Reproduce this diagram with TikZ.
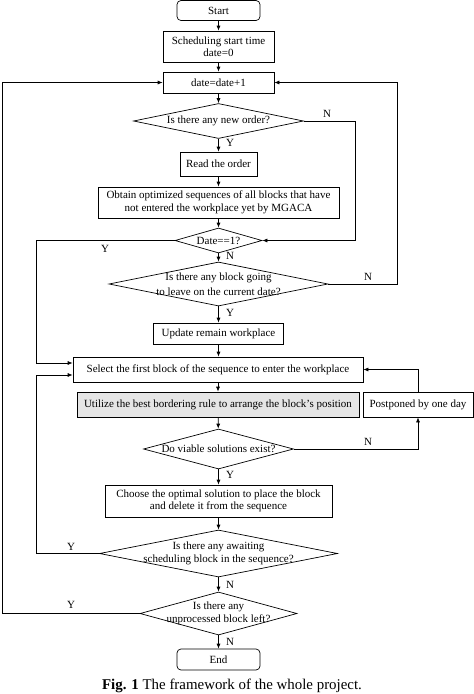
\documentclass[tikz,border=0pt]{standalone}
\usepackage{fontspec}
\setmainfont{Liberation Serif}
\usetikzlibrary{shapes.geometric,arrows.meta}
\begin{document}
\begin{tikzpicture}[x=1pt,y=-1pt,
  every node/.style={font=\fontsize{11}{12.5}\selectfont},
  box/.style={draw,line width=0.7pt,rectangle,inner sep=0pt,align=center},
  rbox/.style={box,rounded corners=4pt},
  dia/.style={draw,line width=0.7pt,diamond,inner sep=0pt},
  txt/.style={align=center,inner sep=0pt},
  lab/.style={inner sep=0pt},
  conn/.style={line width=0.7pt,-{Latex[length=5pt,width=4pt]}}]
\useasboundingbox (0,0) rectangle (474,694);

\node[rbox,minimum width=83pt,minimum height=20pt] (start) at (218.5,10.5) {Start};
\node[box,minimum width=111pt,minimum height=31pt] (sched) at (218.5,46.5) {Scheduling start time\\date=0};
\node[box,minimum width=111pt,minimum height=21pt] (date) at (218.5,82.5) {date=date+1};
\node[dia,minimum width=170pt,minimum height=35pt] (d1) at (218.5,121) {};
\node[txt] at (d1) {Is there any new order?};
\node[box,minimum width=77pt,minimum height=24pt] (read) at (218.5,164) {Read the order};
\node[box,minimum width=241pt,minimum height=31pt] (obtain) at (218.5,202.5) {Obtain optimized sequences of all blocks that have\\not entered the workplace yet by MGACA};
\node[dia,minimum width=87pt,minimum height=25pt] (d2) at (218.5,240.5) {};
\node[txt] at (d2) {Date==1?};
\node[dia,minimum width=219pt,minimum height=44pt] (d3) at (218.5,284) {};
\node[txt,font=\fontsize{11}{15}\selectfont] at (d3) {Is there any block going\\to leave on the current date?};
\node[box,minimum width=130pt,minimum height=21pt] (update) at (218.5,333.5) {Update remain workplace};
\node[box,minimum width=290pt,minimum height=25pt] (select) at (218,369.5) {Select the first block of the sequence to enter the workplace};
\node[box,fill=black!10,minimum width=282pt,minimum height=25pt] (util) at (218,404.5) {Utilize the best bordering rule to arrange the block's position};
\node[box,minimum width=110pt,minimum height=25pt] (post) at (418,404.5) {Postponed by one day};
\node[dia,minimum width=150pt,minimum height=40pt] (d4) at (218.5,449) {};
\node[txt] at (d4) {Do viable solutions exist?};
\node[box,minimum width=227pt,minimum height=32pt] (choose) at (218.5,501) {Choose the optimal solution to place the block\\and delete it from the sequence};
\node[dia,minimum width=238pt,minimum height=47pt] (d5) at (218.5,553.5) {};
\node[txt,font=\fontsize{11}{13}\selectfont] at (d5) {Is there any awaiting\\scheduling block in the sequence?};
\node[dia,minimum width=157pt,minimum height=43pt] (d6) at (218.5,613.5) {};
\node[txt,font=\fontsize{11}{13}\selectfont] at (d6) {Is there any\\unprocessed block left?};
\node[rbox,minimum width=83pt,minimum height=21pt] (end) at (218.5,659.5) {End};
\node[inner sep=0pt,font=\fontsize{14.9}{16}\selectfont] (cap) at (232,686) {\textbf{Fig. 1} The framework of the whole project.};

% vertical flow
\draw[conn] (start) -- (sched);
\draw[conn] (sched) -- (date);
\draw[conn] (date) -- (d1);
\draw[conn] (d1) -- (read);
\draw[conn] (read) -- (obtain);
\draw[conn] (obtain) -- (d2);
\draw[conn] (d2) -- (d3);
\draw[conn] (d3) -- (update);
\draw[conn] (update.south) -- (update.south |- select.north);
\draw[conn] (select) -- (util);
\draw[conn] (util) -- (d4);
\draw[conn] (d4) -- (choose);
\draw[conn] (choose) -- (d5);
\draw[conn] (d5) -- (d6);
\draw[conn] (d6) -- (end);

% side loops
\draw[conn] (d1.east) -- (355,121) |- (d2.east);
\draw[conn] (d3.east) -- (397,284) |- (date.east);
\draw[conn] (d2.west) -- (36,240.5) |- ([yshift=6.5pt]select.west);
\draw[conn] (d5.west) -- (36,553.5) |- ([yshift=-5.5pt]select.west);
\draw[conn] (d6.west) -- (2,613.5) |- (date.west);
\draw[conn] (d4.east) -| (post.south);
\draw[conn] (post.north) |- (select.east);

% labels
\node[lab] at (327,114) {N};
\node[lab] at (230,143) {Y};
\node[lab] at (230,256) {N};
\node[lab] at (105,249) {Y};
\node[lab] at (368,277) {N};
\node[lab] at (230,313) {Y};
\node[lab] at (368,442) {N};
\node[lab] at (230,475) {Y};
\node[lab] at (71,547) {Y};
\node[lab] at (230,585) {N};
\node[lab] at (71,605) {Y};
\node[lab] at (230,642) {N};
\end{tikzpicture}
\end{document}
